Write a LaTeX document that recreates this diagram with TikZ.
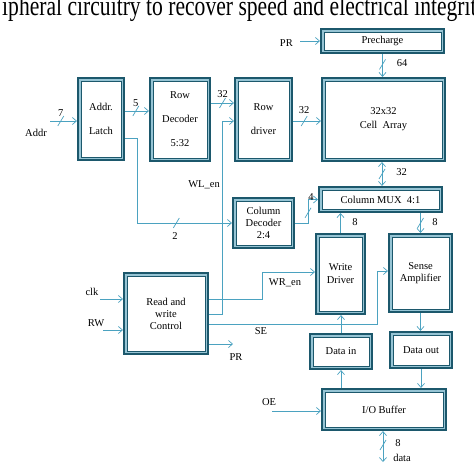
\documentclass[tikz,border=0pt]{standalone}
\usepackage{fontspec}
\setmainfont{Liberation Serif}
\usetikzlibrary{arrows.meta,decorations.markings,calc}
\definecolor{boxdark}{RGB}{28,88,108}
\definecolor{boxlight}{RGB}{150,196,212}
\definecolor{wire}{RGB}{75,162,192}
\tikzset{>={Straight Barb[length=4pt,width=7pt]}}
\tikzset{
  blk/.style={draw=boxdark, line width=1.6pt, fill=white, inner sep=1pt, align=center,
    path picture={
      \draw[boxlight, line width=2pt] ([shift={(2pt,2pt)}]path picture bounding box.south west) rectangle ([shift={(-2pt,-2pt)}]path picture bounding box.north east);
      \draw[boxdark, line width=0.5pt] ([shift={(3.3pt,3.3pt)}]path picture bounding box.south west) rectangle ([shift={(-3.3pt,-3.3pt)}]path picture bounding box.north east);
    }},
  sig/.style={wire, line width=0.7pt, ->},
  bus/.style={postaction={decorate, decoration={markings, mark=at position #1 with {\pgftransformresetnontranslations \draw[wire, line width=0.7pt, -] (-3pt,-5pt) -- (3pt,5pt);}}}},
  lbl/.style={inner sep=1pt, text=black},
}

\begin{document}
\begin{tikzpicture}[x=1pt, y=-1pt, font=\fontsize{10.5}{12}\selectfont]

    \useasboundingbox (0,0) rectangle (474,463);

    \node[anchor=base west, inner sep=0pt, font=\fontsize{21.6}{24}\selectfont] (head) at (2,15) {\scalebox{1}[1.3]{ipheral circuitry to recover speed and electrical integrity}};

    % blocks
    \node[blk, minimum width=46.5pt, minimum height=82.5pt] (latch) at (101,119) {Addr.\\[12pt]Latch};
    \node[blk, minimum width=60.5pt, minimum height=83.5pt] (rowdec) at (180,119.5) {Row\\[12pt]Decoder\\[12pt]5:32};
    \node[blk, minimum width=57.5pt, minimum height=83.5pt] (rowdrv) at (263.5,119.5) {Row\\[12pt]driver};
    \node[blk, minimum width=123.5pt, minimum height=83.5pt] (cells) at (383.5,119.5) {32x32\\[2pt]Cell~~Array};
    \node[blk, minimum width=123.5pt, minimum height=24.5pt] (pre) at (382.5,41) {Precharge};
    \node[blk, minimum width=61.5pt, minimum height=50.5pt] (coldec) at (263.5,223) {Column\\Decoder\\2:4};
    \node[blk, minimum width=123.5pt, minimum height=25.5pt] (mux) at (380.5,199.5) {Column~MUX~~4:1};
    \node[blk, minimum width=49.5pt, minimum height=80.5pt] (wdrv) at (340.5,274) {Write\\[1pt]Driver};
    \node[blk, minimum width=63.5pt, minimum height=78.5pt] (sense) at (420.5,273) {Sense\\Amplifier};
    \node[blk, minimum width=62.5pt, minimum height=35.5pt] (din) at (341,351.5) {Data in};
    \node[blk, minimum width=62.5pt, minimum height=36.5pt] (dout) at (421,350) {Data out};
    \node[blk, minimum width=84.5pt, minimum height=81.5pt] (ctrl) at (166,313.5) {Read and\\write\\Control};
    \node[blk, minimum width=124.5pt, minimum height=41.5pt] (iobuf) at (384,409.5) {I/O Buffer};

    % address side
    \coordinate (addrin) at (50,121);
    \draw[sig, bus=0.4] (addrin) -- (addrin -| latch.west) node[lbl, pos=0.4, above=3pt] {7};
    \node[lbl] (addrlbl) at (36,133) {Addr};
    \draw[sig, bus=0.45] ([yshift=8pt]latch.east) -- ([yshift=8pt]latch.east -| rowdec.west) node[lbl, pos=0.45, above=3pt] {5};
    \draw[sig, bus=0.71] ([yshift=-19pt]latch.east) -- ++(12,0) |- (coldec.west);
    \node[lbl] at (175,236) {2};
    \draw[sig, bus=0.5] ([yshift=16.5pt]rowdec.east) -- ([yshift=16.5pt]rowdec.east -| rowdrv.west) node[lbl, pos=0.5, above=4pt] {32};
    \draw[sig, bus=0.4] ([yshift=-1.5pt]rowdrv.east) -- ([yshift=-1.5pt]rowdrv.east -| cells.west) node[lbl, pos=0.4, above=6pt] {32};

    % precharge and array
    \coordinate (prin) at (300,41);
    \draw[sig] (prin) -- (pre.west);
    \node[lbl, anchor=east] at (294,43) {PR};
    \draw[sig, bus=0.45] (pre.south) -- (pre.south |- cells.north) node[lbl, pos=0.4, right=13pt] {64};
    \draw[sig, <->, bus=0.5] ([xshift=-1.5pt]cells.south) -- ([xshift=-1.5pt]cells.south |- mux.north) node[lbl, pos=0.4, right=13pt] {32};
    \draw[sig, bus=0.5] (coldec.east) -- ++(13,0) |- (mux.west);
    \node[lbl] at (311,197) {4};

    % data path
    \draw[sig] (wdrv.north) -- (wdrv.north |- mux.south);
    \node[lbl] at (355,222) {8};
    \draw[sig, bus=0.5] (sense.north |- mux.south) -- (sense.north);
    \node[lbl] at (435,222) {8};
    \draw[sig] (din.north) -- (din.north |- wdrv.south);
    \draw[sig] (sense.south) -- (sense.south |- dout.north);
    \draw[sig] (din.south |- iobuf.north) -- (din.south);
    \draw[sig] (dout.south) -- (dout.south |- iobuf.north);
    \coordinate (oein) at (272,411);
    \draw[sig] (oein) -- (oein -| iobuf.west);
    \node[lbl] at (269,402) {OE};
    \coordinate (dataend) at (383,462);
    \draw[sig, <->, bus=0.45] (dataend |- iobuf.south) -- (dataend);
    \node[lbl] at (398,443) {8};
    \node[lbl] at (402,458) {data};

    % control
    \coordinate (clkin) at (100,299);
    \draw[sig] (clkin) -- (clkin -| ctrl.west);
    \node[lbl] at (92,292) {clk};
    \coordinate (rwin) at (103,330);
    \draw[sig] (rwin) -- (rwin -| ctrl.west);
    \node[lbl] at (96,323) {RW};
    \draw[sig] ([yshift=14.5pt]ctrl.east) -- ++(53,0) |- ([yshift=2pt]wdrv.west);
    \node[lbl] at (285,283) {WR\_en};
    \draw[sig] ([yshift=-0.5pt]ctrl.east) -- ++(13,0) |- ([yshift=-1.5pt]rowdrv.west);
    \node[lbl, anchor=east] at (221,185) {WL\_en};
    \draw[sig] ([yshift=-10.5pt]ctrl.east) -- ++(168,0) |- ([yshift=2pt]sense.west);
    \node[lbl] at (261,331) {SE};
    \coordinate (prout) at (233,344);
    \draw[sig] (prout -| ctrl.east) -- (prout);
    \node[lbl] at (236,357) {PR};

\end{tikzpicture}
\end{document}
